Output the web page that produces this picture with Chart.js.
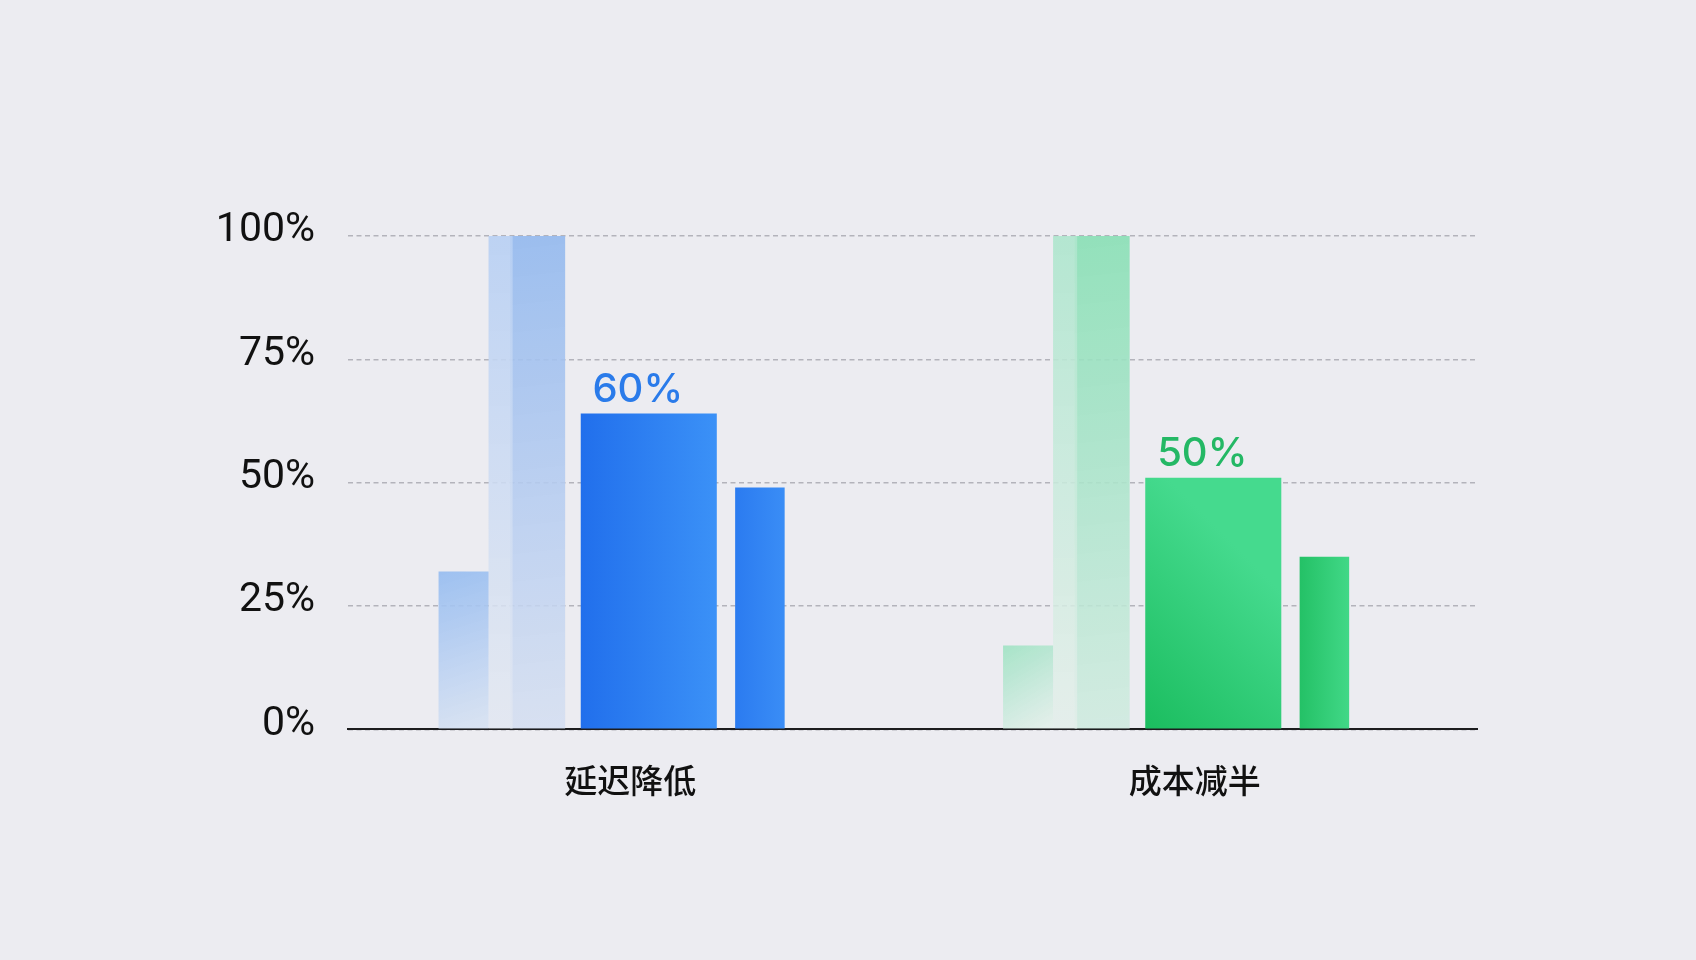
<!DOCTYPE html>
<html>
<head>
<meta charset="utf-8">
<script src="https://cdn.jsdelivr.net/npm/chart.js@4.4.1/dist/chart.umd.min.js"></script>
<style>
  html, body { margin: 0; padding: 0; background: #ECECF1; }
  #wrap { width: 1696px; height: 960px; position: relative; }
</style>
</head>
<body>
<div id="wrap"><canvas id="c"></canvas></div>
<script>
// ---- data ----
const categories = ['延迟降低', '成本减半'];
const baselineShort = [32, 17];
const baselineLight = [100, 100];
const baselineFull = [100, 100];
const improvedMain = [64, 51];
const improvedSecondary = [49, 35];
const valueLabels = ['60%', '50%'];
const yTickValues = [0, 25, 50, 75, 100];

// ---- styles (per category) ----
const palettes = [
  { // blue
    short: { dir: 'diagDown', from: 'rgba(150,188,240,0.92)', to: 'rgba(214,225,242,0.85)' },
    light: { dir: 'vert', from: 'rgba(184,208,243,0.9)', to: 'rgba(226,231,241,0.85)' },
    full:  { dir: 'diagDown', from: 'rgba(148,185,238,0.92)', to: 'rgba(212,222,241,0.85)' },
    main:  { dir: 'horiz', from: '#216FEC', to: '#3B91F7' },
    second:{ dir: 'horiz', from: '#2B7BF0', to: '#3A8DF6' },
    label: '#2A7BEA'
  },
  { // green
    short: { dir: 'diagDown', from: 'rgba(160,226,196,0.92)', to: 'rgba(228,239,235,0.85)' },
    light: { dir: 'vert', from: 'rgba(174,230,205,0.9)', to: 'rgba(227,238,234,0.85)' },
    full:  { dir: 'diagDown', from: 'rgba(138,223,182,0.92)', to: 'rgba(206,234,223,0.85)' },
    main:  { dir: 'diag45', from: '#1BBD5F', to: '#45DA8E' },
    second:{ dir: 'horiz', from: '#24C166', to: '#41D887' },
    label: '#24B865'
  }
];

const spacer = () => ({ data: [null, null], backgroundColor: 'transparent', barPercentage: 1 });

const gradientPlugin = {
  id: 'barGradients',
  beforeDatasetsDraw(chart) {
    const ctx = chart.ctx;
    chart.data.datasets.forEach((ds, di) => {
      if (!ds.styleKey) return;
      const meta = chart.getDatasetMeta(di);
      meta.data.forEach((el, i) => {
        const p = palettes[i][ds.styleKey];
        const x0 = el.x - el.width / 2, x1 = el.x + el.width / 2;
        let g;
        if (p.dir === 'diagDown') g = ctx.createLinearGradient(x0, el.y, x1, el.base);
        else if (p.dir === 'diag45') g = ctx.createLinearGradient(x0, el.base, x1, el.base - el.width);
        else if (p.dir === 'horiz') g = ctx.createLinearGradient(x0, 0, x1, 0);
        else g = ctx.createLinearGradient(0, el.y, 0, el.base);
        g.addColorStop(0, p.from);
        g.addColorStop(1, p.to);
        el.options = Object.assign({}, el.options, { backgroundColor: g });
      });
    });
  }
};

const labelPlugin = {
  id: 'valueLabels',
  afterDatasetsDraw(chart) {
    const di = chart.data.datasets.findIndex(d => d.styleKey === 'main');
    const meta = chart.getDatasetMeta(di);
    const ctx = chart.ctx;
    ctx.save();
    ctx.font = '500 40px Inter, "Noto Sans", sans-serif';
    ctx.textAlign = 'center';
    ctx.textBaseline = 'alphabetic';
    meta.data.forEach((el, i) => {
      ctx.fillStyle = palettes[i].label;
      ctx.fillText(valueLabels[i], el.x - 11, el.y - 12);
    });
    ctx.restore();
  }
};

function make() {
  new Chart(document.getElementById('c'), {
    type: 'bar',
    data: {
      labels: categories,
      datasets: [
        { data: baselineShort, styleKey: 'short', barPercentage: 1.35 },
        { data: baselineLight, styleKey: 'light', barPercentage: 0.65 },
        { data: baselineFull, styleKey: 'full', barPercentage: 1.485 },
        spacer(), spacer(),
        { data: improvedMain, styleKey: 'main', barPercentage: 3.673 },
        spacer(), spacer(),
        { data: improvedSecondary, styleKey: 'second', barPercentage: 1.337 },
        spacer()
      ]
    },
    options: {
      responsive: true,
      maintainAspectRatio: false,
      animation: false,
      layout: { padding: { top: 236, right: 219, bottom: 150.7, left: 0 } },
      plugins: { legend: { display: false }, tooltip: { enabled: false } },
      datasets: { bar: { categoryPercentage: 0.6562, borderWidth: 0 } },
      scales: {
        x: {
          grid: { display: false },
          border: { display: true, color: '#1c1c1e', width: 2 },
          ticks: { font: { family: '"Noto Sans CJK SC"', size: 33, weight: '500' }, color: '#111', padding: 23 },
          afterFit: s => { s.height = 80; }
        },
        y: {
          min: 0, max: 100,
          afterBuildTicks: s => { s.ticks = yTickValues.map(v => ({ value: v })); },
          ticks: {
            callback: v => v + '%',
            font: { family: 'Roboto', size: 41 },
            color: '#111',
            padding: 33,
            labelOffset: -5
          },
          grid: { color: '#b3b3bb', lineWidth: 1.5, drawTicks: false },
          border: { display: false, dash: [5, 3.5] },
          afterFit: s => { s.width = 348; }
        }
      }
    },
    plugins: [gradientPlugin, labelPlugin]
  });
}

const fontLoads = [
  '41px Roboto', '500 33px "Noto Sans CJK SC"', '500 40px Inter'
].map(f => document.fonts.load(f, '0123456789%延迟降低成本减半').catch(() => null));
Promise.all(fontLoads).then(make, make);
</script>
</body>
</html>
